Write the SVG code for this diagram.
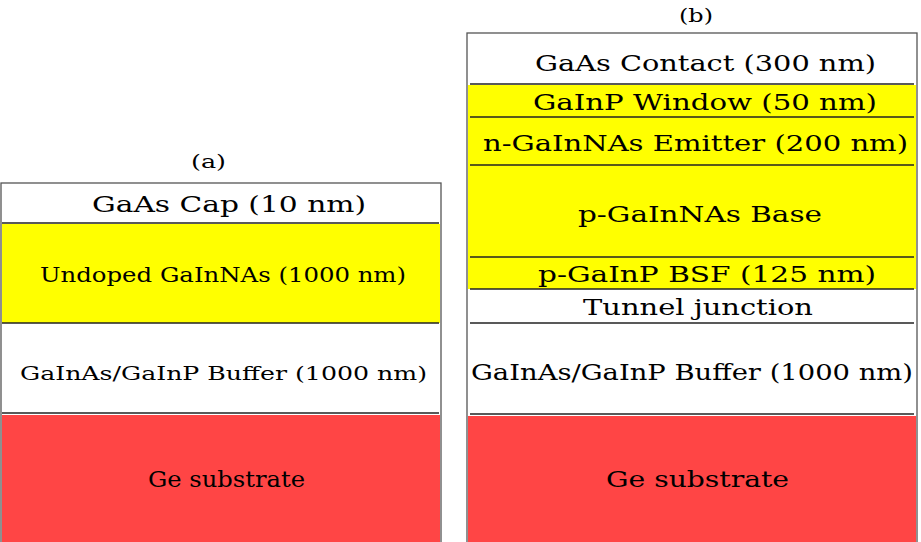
<svg xmlns="http://www.w3.org/2000/svg" width="921" height="542" viewBox="0 0 921 542">
<style>
text{font-family:"DejaVu Serif","Liberation Serif",serif;fill:#000}
.l{stroke:#222;stroke-width:1.3}
.box{fill:none;stroke:#555;stroke-width:1.3}
.y{fill:#ffff00}.r{fill:#ff4545}
.t{font-size:23px}
</style>
<g id="panel-a">
<text x="191" y="168" font-size="18" textLength="35" lengthAdjust="spacingAndGlyphs">(a)</text>
<rect class="y" x="2" y="224" width="438" height="99"/>
<rect class="r" x="2" y="415" width="438" height="127"/>
<rect class="box" x="1" y="183" width="440" height="370"/>
<g class="l"><line x1="2" y1="223" x2="439" y2="223"/><line x1="2" y1="323" x2="439" y2="323"/><line x1="2" y1="413" x2="439" y2="413"/></g>
<text class="t" x="92" y="212" textLength="274" lengthAdjust="spacingAndGlyphs">GaAs Cap (10 nm)</text>
<text x="40" y="282" font-size="20" textLength="366" lengthAdjust="spacingAndGlyphs">Undoped GaInNAs (1000 nm)</text>
<text x="20" y="380" font-size="19" textLength="407" lengthAdjust="spacingAndGlyphs">GaInAs/GaInP Buffer (1000 nm)</text>
<text class="t" x="148" y="487" textLength="157" lengthAdjust="spacingAndGlyphs">Ge substrate</text>
</g>
<g id="panel-b">
<text x="679" y="22" font-size="18" textLength="34" lengthAdjust="spacingAndGlyphs">(b)</text>
<rect class="y" x="468" y="85" width="448" height="204"/>
<rect class="r" x="468" y="416" width="448" height="126"/>
<rect class="box" x="467" y="33" width="450" height="520"/>
<g class="l"><line x1="470" y1="84" x2="914" y2="84"/><line x1="470" y1="117" x2="914" y2="117"/><line x1="470" y1="165" x2="914" y2="165"/><line x1="470" y1="257" x2="914" y2="257"/><line x1="470" y1="289" x2="914" y2="289"/><line x1="470" y1="323" x2="914" y2="323"/><line x1="470" y1="414" x2="914" y2="414"/></g>
<text class="t" x="535" y="71" textLength="341" lengthAdjust="spacingAndGlyphs">GaAs Contact (300 nm)</text>
<text class="t" x="533" y="110" textLength="344" lengthAdjust="spacingAndGlyphs">GaInP Window (50 nm)</text>
<text class="t" x="483" y="151" textLength="425" lengthAdjust="spacingAndGlyphs">n-GaInNAs Emitter (200 nm)</text>
<text class="t" x="578" y="222" textLength="244" lengthAdjust="spacingAndGlyphs">p-GaInNAs Base</text>
<text class="t" x="538" y="282" textLength="338" lengthAdjust="spacingAndGlyphs">p-GaInP BSF (125 nm)</text>
<text class="t" x="583" y="315" textLength="230" lengthAdjust="spacingAndGlyphs">Tunnel junction</text>
<text class="t" x="471" y="380" textLength="442" lengthAdjust="spacingAndGlyphs">GaInAs/GaInP Buffer (1000 nm)</text>
<text class="t" x="606" y="487" textLength="183" lengthAdjust="spacingAndGlyphs">Ge substrate</text>
</g>
</svg>
